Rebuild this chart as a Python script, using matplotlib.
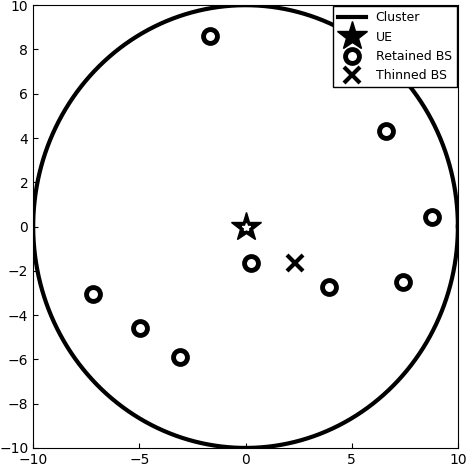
import numpy as np
import matplotlib
matplotlib.use("Agg")
import matplotlib.pyplot as plt

ret_x = [-1.67, 6.61, 8.78, 0.26, 3.93, 7.41, -7.18, -4.96, -3.08]
ret_y = [8.6, 4.31, 0.43, -1.65, -2.73, -2.51, -3.05, -4.58, -5.89]
thin_x = [2.33]
thin_y = [-1.65]
ue_x = [0.0]
ue_y = [0.0]
radius = 10

fig = plt.figure(figsize=(4.74, 4.72), dpi=100)
ax = fig.add_axes([0.07, 0.051, 0.896, 0.938])
t = np.linspace(0, 2*np.pi, 400)
ax.plot(radius*np.cos(t), radius*np.sin(t), 'k-', lw=3, label='Cluster')
ax.plot(ue_x, ue_y, 'k*', ms=22, mfc='k', mec='k', label='UE', linestyle='none')
ax.plot(ue_x, ue_y, '*', ms=6, color='white')
ax.plot(ret_x, ret_y, 'o', ms=10, mfc='none', mec='k', mew=3.5, label='Retained BS', linestyle='none')
ax.plot(thin_x, thin_y, 'x', ms=11, color='k', mew=3, label='Thinned BS', linestyle='none')
ax.set_xlim(-10, 10)
ax.set_ylim(-10, 10)
ax.set_xticks(range(-10, 11, 5))
ax.set_yticks(range(-10, 11, 2))
ax.tick_params(labelsize=10, direction='in')
ax.legend(loc='upper right', fontsize=9, frameon=True, edgecolor='k', fancybox=False,
          framealpha=1, borderaxespad=0.1, handlelength=2.2)
fig.savefig('out.png', dpi=100)
